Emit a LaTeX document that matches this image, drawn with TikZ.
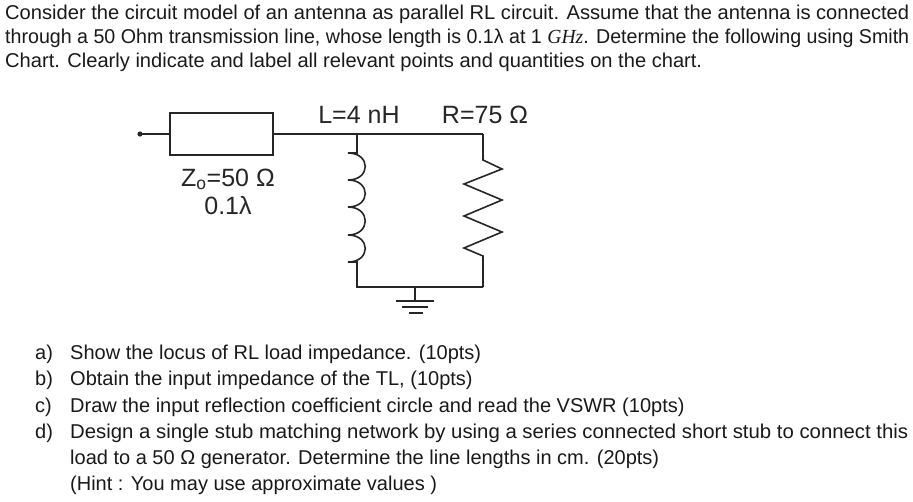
\documentclass[tikz,border=0pt]{standalone}
\usepackage{fontspec}
\setmainfont{Liberation Sans}
\newfontfamily\gzfont{Liberation Serif}
\newcommand{\linefit}[2]{\resizebox{#1pt}{\height}{#2}}
\begin{document}
\begin{tikzpicture}[x=1pt,y=-1pt,
  wire/.style={line width=1.6pt,draw=black!85,line join=miter},
  para/.style={anchor=base west,inner sep=0pt,font=\fontsize{20pt}{23pt}\selectfont,text=black!90},
  lab/.style={anchor=base,inner sep=0pt,font=\fontsize{25pt}{28pt}\selectfont,text=black!85},
  tlbox/.style={draw=black!85,line width=1.6pt,minimum width=103pt,minimum height=42pt,inner sep=0pt}]
\useasboundingbox (0,0) rectangle (913,501);
% paragraph
\node[para] (p1) at (5,19) {\linefit{904}{Consider the circuit model of an antenna as parallel RL circuit. Assume that the antenna is connected}};
\node[para] (p2) at (5,43) {\linefit{904}{through a 50 Ohm transmission line, whose length is 0.1λ at 1 {\gzfont\itshape GHz}. Determine the following using Smith}};
\node[para] (p3) at (5,67) {\linefit{697}{Chart. Clearly indicate and label all relevant points and quantities on the chart.}};
% circuit
\node[tlbox] (tl) at (221.5,134) {};
\coordinate (term) at (140,134);
\coordinate (j1) at (357,134);
\coordinate (jr) at (483,134);
\coordinate (ltop) at (357,153);
\coordinate (lbot) at (357,262);
\coordinate (b1) at (357,287);
\coordinate (b2) at (483,287);
\coordinate (g0) at (415,287);
\coordinate (g1) at (415,301);
\fill[black!85] (term) circle (2.6pt);
\draw[wire] (term) -- (tl.west);
\draw[wire] (tl.east) -- (j1) -- (jr);
\draw[wire] (j1) -- (ltop) -- (348,153)
  .. controls (371,153) and (371,180) .. (348,180)
  .. controls (371,180) and (371,207) .. (348,207)
  .. controls (371,207) and (371,235) .. (348,235)
  .. controls (371,235) and (371,262) .. (348,262)
  -- (lbot) -- (b1) -- (b2);
\draw[wire] (jr) -- (483,160) -- (502,169) -- (464,184) -- (502,200) -- (464,216) -- (502,232) -- (464,248) -- (483,256) -- (b2);
\draw[wire] (g0) -- (g1);
\draw[wire] (396,301) -- (434,301);
\draw[wire] (402,307) -- (428,307);
\draw[wire] (409,313) -- (423,313);
% circuit labels
\node[lab] (ll) at (359,123) {L=4 nH};
\node[lab] (rl) at (485,123) {R=75 Ω};
\node[lab] (z0) at (228,186) {Z\textsubscript{o}=50 Ω};
\node[lab] (ln) at (228,214) {0.1λ};
% questions
\node[para] (qa) at (35,359) {a)};
\node[para] (qat) at (70,359) {Show the locus of RL load impedance. (10pts)};
\node[para] (qb) at (35,385) {b)};
\node[para] (qbt) at (70,385) {Obtain the input impedance of the TL, (10pts)};
\node[para] (qc) at (35,412) {c)};
\node[para] (qct) at (70,412) {Draw the input reflection coefficient circle and read the VSWR (10pts)};
\node[para] (qd) at (35,438) {d)};
\node[para] (qdt) at (70,438) {\linefit{838}{Design a single stub matching network by using a series connected short stub to connect this}};
\node[para] (qd2) at (70,464) {load to a 50 Ω generator. Determine the line lengths in cm. (20pts)};
\node[para] (qd3) at (70,490) {(Hint : You may use approximate values )};
\end{tikzpicture}
\end{document}
